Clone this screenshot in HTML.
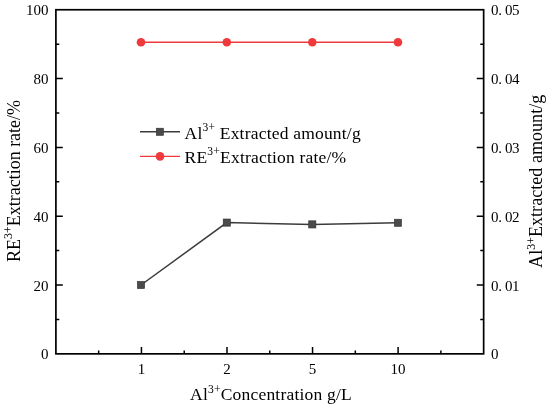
<!DOCTYPE html>
<html><head><meta charset="utf-8"><style>html,body{margin:0;padding:0;background:#fff;}svg{display:block;}</style></head>
<body><svg width="550" height="408" viewBox="0 0 550 408" font-family="'Liberation Serif', serif"><rect x="55.9" y="9.75" width="427.75" height="344.1" fill="none" stroke="#000" stroke-width="1.7"/><path d="M55.9,319.44h3.4 M483.65,319.44h-3.4 M55.9,285.03h6.9 M483.65,285.03h-6.9 M55.9,250.62h3.4 M483.65,250.62h-3.4 M55.9,216.21h6.9 M483.65,216.21h-6.9 M55.9,181.80h3.4 M483.65,181.80h-3.4 M55.9,147.39h6.9 M483.65,147.39h-6.9 M55.9,112.98h3.4 M483.65,112.98h-3.4 M55.9,78.57h6.9 M483.65,78.57h-6.9 M55.9,44.16h3.4 M483.65,44.16h-3.4 M98.67,353.85v-3.4 M141.45,353.85v-6.9 M184.22,353.85v-3.4 M227.00,353.85v-6.9 M269.77,353.85v-3.4 M312.55,353.85v-6.9 M355.32,353.85v-3.4 M398.10,353.85v-6.9 M440.88,353.85v-3.4" stroke="#000" stroke-width="1.5" fill="none"/><g font-size="15"><text x="48.5" y="359.45" text-anchor="end">0</text><text x="48.5" y="290.63" text-anchor="end">20</text><text x="48.5" y="221.81" text-anchor="end">40</text><text x="48.5" y="152.99" text-anchor="end">60</text><text x="48.5" y="84.17" text-anchor="end">80</text><text x="48.5" y="15.35" text-anchor="end">100</text><text x="491" y="359.45" letter-spacing="-0.35">0</text><text x="491" y="290.63" letter-spacing="-0.35">0. 01</text><text x="491" y="221.81" letter-spacing="-0.35">0. 02</text><text x="491" y="152.99" letter-spacing="-0.35">0. 03</text><text x="491" y="84.17" letter-spacing="-0.35">0. 04</text><text x="491" y="15.35" letter-spacing="-0.35">0. 05</text><text x="141.45" y="374" text-anchor="middle">1</text><text x="227.00" y="374" text-anchor="middle">2</text><text x="312.55" y="374" text-anchor="middle">5</text><text x="398.10" y="374" text-anchor="middle">10</text></g><polyline points="141.00,285 226.80,222.6 312.30,224.4 397.95,222.8" fill="none" stroke="#3c3c3c" stroke-width="1.5"/><rect x="137.40" y="281.40" width="7.2" height="7.2" fill="#4a4a4a" stroke="#333" stroke-width="0.6"/><rect x="223.20" y="219.00" width="7.2" height="7.2" fill="#4a4a4a" stroke="#333" stroke-width="0.6"/><rect x="308.70" y="220.80" width="7.2" height="7.2" fill="#4a4a4a" stroke="#333" stroke-width="0.6"/><rect x="394.35" y="219.20" width="7.2" height="7.2" fill="#4a4a4a" stroke="#333" stroke-width="0.6"/><polyline points="141.00,42.3 226.80,42.3 312.30,42.3 397.95,42.3" fill="none" stroke="#ef3a3d" stroke-width="1.4"/><circle cx="141.00" cy="42.3" r="4.3" fill="#ef3a3d"/><circle cx="226.80" cy="42.3" r="4.3" fill="#ef3a3d"/><circle cx="312.30" cy="42.3" r="4.3" fill="#ef3a3d"/><circle cx="397.95" cy="42.3" r="4.3" fill="#ef3a3d"/><path d="M140,131.8H180" stroke="#3c3c3c" stroke-width="1.5"/><rect x="156.3" y="128.2" width="7.2" height="7.2" fill="#4a4a4a" stroke="#333" stroke-width="0.6"/><path d="M140,156.4H180" stroke="#ef3a3d" stroke-width="1.4"/><circle cx="160" cy="156.4" r="4.3" fill="#ef3a3d"/><g font-size="17.5" letter-spacing="0.2"><text x="184.6" y="138.9">Al<tspan font-size="11.55" dy="-7.88">3+</tspan><tspan dy="7.88"> Extracted amount/g</tspan></text><text x="184.6" y="163.1">RE<tspan font-size="11.55" dy="-7.88">3+</tspan><tspan dy="7.88">Extraction rate/%</tspan></text></g><g font-size="17.5" letter-spacing="0.2"><text x="190.1" y="399.8">Al<tspan font-size="11.55" dy="-7.17">3+</tspan><tspan dy="7.17">Concentration g/L</tspan></text></g><g font-size="18" letter-spacing="0"><text transform="translate(19.7,262) rotate(-90)">RE<tspan font-size="11.88" dy="-7.38">3+</tspan><tspan dy="7.38">Extraction rate/%</tspan></text></g><g font-size="18" letter-spacing="0.05"><text transform="translate(542,267.9) rotate(-90)">Al<tspan font-size="11.88" dy="-7.38">3+</tspan><tspan dy="7.38">Extracted amount/g</tspan></text></g></svg></body></html>
